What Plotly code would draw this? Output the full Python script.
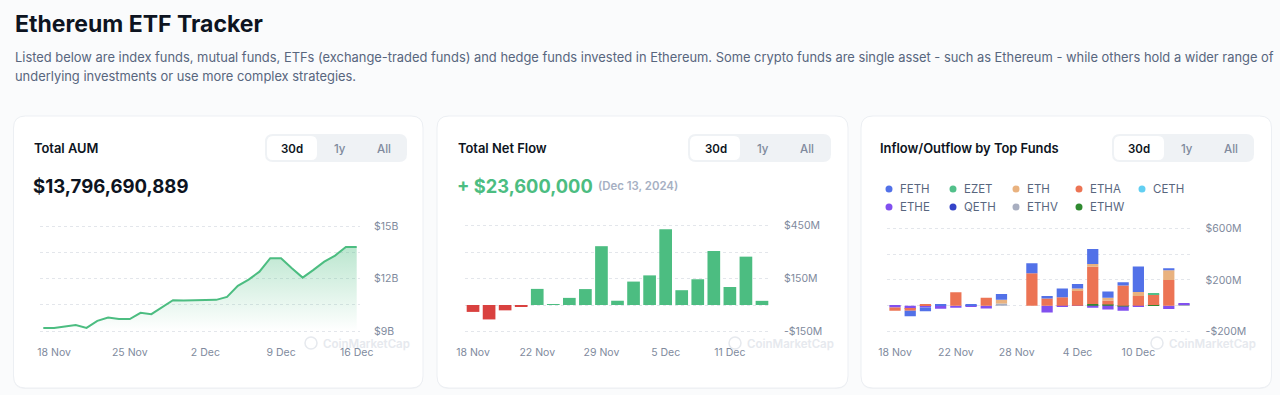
import plotly.graph_objects as go

# ---------------- data ----------------
aum_dates = ["2024-11-17", "2024-11-18", "2024-11-19", "2024-11-20", "2024-11-21", "2024-11-22",
             "2024-11-23", "2024-11-24", "2024-11-25", "2024-11-26", "2024-11-27", "2024-11-28",
             "2024-11-29", "2024-11-30", "2024-12-01", "2024-12-02", "2024-12-03", "2024-12-04",
             "2024-12-05", "2024-12-06", "2024-12-07", "2024-12-08", "2024-12-09", "2024-12-10",
             "2024-12-11", "2024-12-12", "2024-12-13", "2024-12-14", "2024-12-15", "2024-12-16"]
aum_billions = [9.17, 9.17, 9.26, 9.34, 9.18, 9.58, 9.77, 9.68, 9.68, 10.04, 9.96, 10.38,
                10.76, 10.74, 10.74, 10.74, 10.78, 10.95, 11.58, 11.94, 12.39, 13.16, 13.16,
                12.59, 12.05, 12.49, 12.96, 13.31, 13.80, 13.80]
aum_ticks = ["2024-11-18", "2024-11-25", "2024-12-02", "2024-12-09", "2024-12-16"]
aum_yticks = [9, 10.5, 12, 13.5, 15]
aum_ytext = ["$9B", "", "$12B", "", "$15B"]

flow_dates = ["18 Nov", "19 Nov", "20 Nov", "21 Nov", "22 Nov", "25 Nov", "26 Nov", "27 Nov",
              "29 Nov", "2 Dec", "3 Dec", "4 Dec", "5 Dec", "6 Dec", "9 Dec", "10 Dec",
              "11 Dec", "12 Dec", "13 Dec"]
net_flow_m = [-39.1, -81.7, -30.3, -9.4, 91.2, 2.8, 40.3, 90.1, 332.9, 24.2, 132.6, 167.7,
              428.5, 83.8, 145.7, 305.7, 102.1, 273.7, 23.6]
flow_ticks = ["18 Nov", "22 Nov", "29 Nov", "5 Dec", "11 Dec"]
flow_yticks = [-150, 0, 150, 300, 450]
flow_ytext = ["-$150M", "", "$150M", "", "$450M"]

fund_dates = ["18 Nov", "19 Nov", "20 Nov", "21 Nov", "22 Nov", "25 Nov", "26 Nov", "27 Nov",
              "28 Nov", "29 Nov", "2 Dec", "3 Dec", "4 Dec", "5 Dec", "6 Dec", "9 Dec",
              "10 Dec", "11 Dec", "12 Dec", "13 Dec"]
feth = [0, -42, -29, 8, 0, 3, 0, 44, 0, 78, 21, 68, 36, 117, 49, 26, 198, 0, 16, 0]
ezet = [0, 0, 0, 0, 0, 0, 0, 0, 0, 0, 0, 0, 0, 0, 0, 0, 0, 8, 0, 0]
eth = [0, 0, 0, 0, 0, 0, 0, 30, 0, 0, 0, 0, 13, 21, 21, 0, 31, 0, 75, 0]
etha = [-25, -15, 12, 0, 104, 0, 62, 0, 0, 252, 55, 65, 120, 289, 31, 156, 75, 83, 200, 0]
ceth = [0] * 20
ethe = [-14, -25, -15, -24, -16, -4, -21, 0, 0, 0, -52, -4, -2, -16, -30, -34, -10, 0, -26, 8]
qeth = [0] * 20
ethv = [0, 0, 0, 5, 0, 4, 0, 16, 0, 0, 0, 0, 0, 0, 0, 0, 0, 0, 0, 7]
ethw = [0, 0, 0, 0, 0, 0, 0, 0, 0, 0, 0, 0, 0, 13, 10, -6, 0, 6, 0, 0]
fund_ticks = ["18 Nov", "22 Nov", "28 Nov", "4 Dec", "10 Dec"]
fund_yticks = [-200, 0, 200, 400, 600]
fund_ytext = ["-$200M", "", "$200M", "", "$600M"]

legend_names = ["FETH", "EZET", "ETH", "ETHA", "CETH", "ETHE", "QETH", "ETHV", "ETHW"]

# ---------------- styles ----------------
W, H = 1280, 395
FONT = "Inter, Roboto, sans-serif"
DARK = "#0d1421"
GREY = "#58667e"
AXIS = "#808a9d"
GRID = "#e3e6eb"
GREEN = "#4cbd81"
RED = "#d9413f"
fund_colors = {"FETH": "#5271e8", "EZET": "#52c08a", "ETH": "#e9b27f", "ETHA": "#ec7454",
               "CETH": "#62cff2", "ETHE": "#8150ef", "QETH": "#3443c8", "ETHV": "#a8aec0",
               "ETHW": "#2f8a30"}
fund_series = {"FETH": feth, "EZET": ezet, "ETH": eth, "ETHA": etha, "CETH": ceth,
               "ETHE": ethe, "QETH": qeth, "ETHV": ethv, "ETHW": ethw}
stack_order = ["ETHW", "ETHV", "QETH", "CETH", "ETHE", "ETHA", "ETH", "EZET", "FETH"]


def X(p):
    return p / W


def Y(p):
    return 1 - p / H


def rrect(x0, y0, x1, y1, r):
    pts = [("M", x0 + r, y0), ("L", x1 - r, y0), ("Q", x1, y0, x1, y0 + r), ("L", x1, y1 - r),
           ("Q", x1, y1, x1 - r, y1), ("L", x0 + r, y1), ("Q", x0, y1, x0, y1 - r),
           ("L", x0, y0 + r), ("Q", x0, y0, x0 + r, y0)]
    s = ""
    for p in pts:
        cmd = p[0]
        coords = p[1:]
        vals = []
        for i in range(0, len(coords), 2):
            vals.append(f"{X(coords[i]):.5f},{Y(coords[i + 1]):.5f}")
        s += cmd + " ".join(vals) + " "
    return s + "Z"


fig = go.Figure()

# Chart 1: AUM line
fig.add_trace(go.Scatter(
    x=aum_dates, y=aum_billions, mode="lines", xaxis="x", yaxis="y",
    line=dict(color=GREEN, width=2), fill="tozeroy",
    fillgradient=dict(type="vertical", start=9, stop=13.8,
                      colorscale=[[0, "rgba(76,189,129,0)"], [1, "rgba(76,189,129,0.38)"]]),
    hoverinfo="skip", showlegend=False))

# Chart 2: net flow bars
fig.add_trace(go.Bar(
    x=flow_dates, y=net_flow_m, xaxis="x2", yaxis="y2", width=0.79,
    marker=dict(color=[GREEN if v >= 0 else RED for v in net_flow_m], line=dict(width=0)),
    showlegend=False))

# Chart 3: stacked fund bars
for name in stack_order:
    fig.add_trace(go.Bar(
        x=fund_dates, y=fund_series[name], name=name, xaxis="x3", yaxis="y3", width=0.74,
        marker=dict(color=fund_colors[name], line=dict(width=0)), showlegend=False))

shapes = []
annotations = []

# cards
cards = [(13.5, 116, 423, 388), (437, 116, 848, 388), (861, 116, 1271.5, 388)]
for (x0, y0, x1, y1) in cards:
    shapes.append(dict(type="path", xref="paper", yref="paper", path=rrect(x0, y0 + 1, x1, y1 + 1, 12),
                       fillcolor="rgba(20,30,60,0.035)", line=dict(width=0), layer="below"))
    shapes.append(dict(type="path", xref="paper", yref="paper", path=rrect(x0, y0, x1, y1, 12),
                       fillcolor="#ffffff", line=dict(color="#eceff3", width=1), layer="below"))

# toggles
toggles = [(265, 407, 292, 340, 384), (688, 831, 716, 763, 807), (1112, 1254, 1139, 1187, 1231)]
for (p0, p1, t30, t1y, tall) in toggles:
    shapes.append(dict(type="path", xref="paper", yref="paper", path=rrect(p0, 134, p1, 162, 8),
                       fillcolor="#eff2f5", line=dict(width=0), layer="below"))
    shapes.append(dict(type="path", xref="paper", yref="paper", path=rrect(p0 + 2, 136, p0 + 52, 160, 6),
                       fillcolor="#ffffff", line=dict(width=0), layer="below"))
    annotations.append(dict(x=X(t30), y=Y(148.5), text="30d", font=dict(family=FONT, size=11.5, color=DARK, weight=600)))
    annotations.append(dict(x=X(t1y), y=Y(148.5), text="1y", font=dict(family=FONT, size=11.5, color=AXIS, weight=500)))
    annotations.append(dict(x=X(tall), y=Y(148.5), text="All", font=dict(family=FONT, size=11.5, color=AXIS, weight=500)))

# page title & description
annotations.append(dict(x=X(13), y=Y(24), xanchor="left", text="Ethereum ETF Tracker",
                        font=dict(family=FONT, size=23, color=DARK, weight=700)))
annotations.append(dict(x=X(13), y=Y(57), xanchor="left",
                        text="Listed below are index funds, mutual funds, ETFs (exchange-traded funds) and hedge funds invested in Ethereum. Some crypto funds are single asset - such as Ethereum - while others hold a wider range of",
                        font=dict(family=FONT, size=12.9, color=GREY)))
annotations.append(dict(x=X(13), y=Y(76), xanchor="left",
                        text="underlying investments or use more complex strategies.",
                        font=dict(family=FONT, size=12.9, color=GREY)))

# card titles
for (tx, title) in [(32, "Total AUM"), (456, "Total Net Flow"), (878, "Inflow/Outflow by Top Funds")]:
    annotations.append(dict(x=X(tx), y=Y(148.5), xanchor="left", text=title,
                            font=dict(family=FONT, size=12.9, color=DARK, weight=600)))

annotations.append(dict(x=X(31), y=Y(186), xanchor="left", text="$13,796,690,889",
                        font=dict(family=FONT, size=18.6, color=DARK, weight=700)))
annotations.append(dict(x=X(455), y=Y(186), xanchor="left", text="+ $23,600,000",
                        font=dict(family=FONT, size=18.3, color=GREEN, weight=700)))
annotations.append(dict(x=X(596), y=Y(186), xanchor="left", text="(Dec 13, 2024)",
                        font=dict(family=FONT, size=11.4, color="#a6b0c3", weight=600)))

# legend for chart 3
leg_x = [889, 953, 1016, 1079, 1142]
for i, name in enumerate(legend_names):
    cx = leg_x[i % 5]
    cy = 189 if i < 5 else 207
    shapes.append(dict(type="circle", xref="paper", yref="paper",
                       x0=X(cx - 3.5), x1=X(cx + 3.5), y0=Y(cy + 3.5), y1=Y(cy - 3.5),
                       fillcolor=fund_colors[name], line=dict(width=0)))
    annotations.append(dict(x=X(cx + 9), y=Y(cy), xanchor="left", text=name,
                            font=dict(family=FONT, size=11.5, color=GREY)))

# watermarks
for wx in [311, 735, 1157]:
    shapes.append(dict(type="circle", xref="paper", yref="paper",
                       x0=X(wx - 6), x1=X(wx + 6), y0=Y(343 + 6), y1=Y(343 - 6),
                       line=dict(color="#e6e9ee", width=1.5)))
    annotations.append(dict(x=X(wx + 10), y=Y(343.5), xanchor="left", text="CoinMarketCap",
                            font=dict(family=FONT, size=11.5, color="#e6e9ee", weight=600)))

for a in annotations:
    a.setdefault("xref", "paper")
    a.setdefault("yref", "paper")
    a.setdefault("showarrow", False)
    a.setdefault("yanchor", "middle")
    a.setdefault("xanchor", "center")

tickfont = dict(family=FONT, size=10.5, color=AXIS)
common_x = dict(showgrid=False, zeroline=False, showline=False, ticks="", tickfont=tickfont,
                fixedrange=True, ticklabelstandoff=6, automargin=False)
common_y = dict(side="right", showgrid=True, gridcolor=GRID, griddash="dot", gridwidth=1,
                zeroline=False, showline=False, ticks="", tickfont=tickfont, fixedrange=True,
                ticklabelstandoff=13, tickmode="array", automargin=False)

fig.update_layout(
    width=W, height=H, autosize=False,
    margin=dict(l=0, r=0, t=0, b=0, pad=0, autoexpand=False),
    paper_bgcolor="#fafbfc", plot_bgcolor="rgba(0,0,0,0)",
    barmode="relative", showlegend=False,
    font=dict(family=FONT),
    xaxis=dict(domain=[X(40), X(360)], type="date", anchor="y",
               range=["2024-11-16 16:40", "2024-12-16 07:20"],
               tickvals=aum_ticks, tickformat="%-d %b", **common_x),
    yaxis=dict(domain=[Y(338), Y(218)], anchor="x", range=[8.6, 15.457],
               tickvals=aum_yticks, ticktext=aum_ytext, **common_y),
    xaxis2=dict(domain=[X(465), X(770)], type="category", anchor="y2",
                range=[-0.5, len(flow_dates) - 0.5], tickmode="array",
                tickvals=flow_ticks, ticktext=flow_ticks, **common_x),
    yaxis2=dict(domain=[Y(338), Y(218)], anchor="x2", range=[-186.8, 492.5],
                tickvals=flow_yticks, ticktext=flow_ytext, **common_y),
    xaxis3=dict(domain=[X(887.4), X(1191.6)], type="category", anchor="y3",
                range=[-0.5, len(fund_dates) - 0.5], tickmode="array",
                tickvals=fund_ticks, ticktext=fund_ticks, **common_x),
    yaxis3=dict(domain=[Y(338), Y(218)], anchor="x3", range=[-251, 681],
                tickvals=fund_yticks, ticktext=fund_ytext, **common_y),
    shapes=shapes, annotations=annotations,
)

fig.write_html("out.html", config={"displayModeBar": False})
